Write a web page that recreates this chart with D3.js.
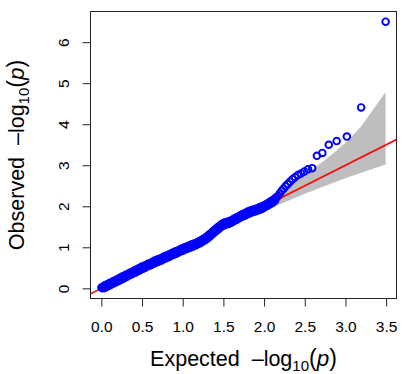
<!DOCTYPE html>
<html>
<head>
<meta charset="utf-8">
<script src="https://cdn.jsdelivr.net/npm/d3@7"></script>
<style>
  body { margin: 0; background: #fff; }
  text { font-family: "Liberation Sans", Arial, Helvetica, sans-serif; fill: #000; }
</style>
</head>
<body>
<div id="chart"></div>
<script>
var expected = [
  0.0000, 0.0125, 0.0250, 0.0375, 0.0500, 0.0625, 0.0750, 0.0875, 0.1000, 0.1125,
  0.1250, 0.1375, 0.1500, 0.1625, 0.1750, 0.1875, 0.2000, 0.2125, 0.2250, 0.2375,
  0.2500, 0.2625, 0.2750, 0.2875, 0.3000, 0.3125, 0.3250, 0.3375, 0.3500, 0.3625,
  0.3750, 0.3875, 0.4000, 0.4125, 0.4250, 0.4375, 0.4500, 0.4625, 0.4750, 0.4875,
  0.5000, 0.5125, 0.5250, 0.5375, 0.5500, 0.5625, 0.5750, 0.5875, 0.6000, 0.6125,
  0.6250, 0.6375, 0.6500, 0.6625, 0.6750, 0.6875, 0.7000, 0.7125, 0.7250, 0.7375,
  0.7500, 0.7625, 0.7750, 0.7875, 0.8000, 0.8125, 0.8250, 0.8375, 0.8500, 0.8625,
  0.8750, 0.8875, 0.9000, 0.9125, 0.9250, 0.9375, 0.9500, 0.9625, 0.9750, 0.9875,
  1.0000, 1.0125, 1.0250, 1.0375, 1.0500, 1.0625, 1.0750, 1.0875, 1.1000, 1.1125,
  1.1250, 1.1375, 1.1500, 1.1625, 1.1750, 1.1875, 1.2000, 1.2125, 1.2250, 1.2375,
  1.2500, 1.2625, 1.2750, 1.2875, 1.3000, 1.3125, 1.3250, 1.3375, 1.3500, 1.3625,
  1.3750, 1.3875, 1.4000, 1.4125, 1.4250, 1.4375, 1.4500, 1.4625, 1.4750, 1.4875,
  1.5000, 1.5125, 1.5250, 1.5375, 1.5500, 1.5625, 1.5750, 1.5875, 1.6000, 1.6125,
  1.6250, 1.6375, 1.6500, 1.6625, 1.6750, 1.6875, 1.7000, 1.7125, 1.7250, 1.7375,
  1.7500, 1.7625, 1.7750, 1.7875, 1.8000, 1.8125, 1.8250, 1.8375, 1.8500, 1.8625,
  1.8750, 1.8875, 1.9000, 1.9125, 1.9250, 1.9375, 1.9500, 1.9625, 1.9750, 1.9875,
  2.0000, 2.0125, 2.0250, 2.0375, 2.0500, 2.0625, 2.0750, 2.0875, 2.1000, 2.1125,
  2.1250, 2.1375, 2.1500,
  2.172, 2.193, 2.216, 2.239, 2.264, 2.290, 2.318, 2.348, 2.380, 2.415,
  2.453, 2.494, 2.540, 2.591, 2.649, 2.716, 2.795, 2.892, 3.017, 3.193, 3.494];
var observed = [
  0.02, 0.00, 0.05, 0.01, 0.08, 0.03, 0.10, 0.06, 0.13, 0.08,
  0.15, 0.11, 0.18, 0.13, 0.20, 0.16, 0.23, 0.18, 0.25, 0.21,
  0.28, 0.23, 0.30, 0.26, 0.33, 0.28, 0.35, 0.31, 0.38, 0.33,
  0.40, 0.36, 0.43, 0.38, 0.45, 0.41, 0.48, 0.43, 0.50, 0.46,
  0.53, 0.48, 0.55, 0.50, 0.57, 0.53, 0.60, 0.55, 0.62, 0.57,
  0.64, 0.60, 0.67, 0.62, 0.69, 0.64, 0.71, 0.66, 0.73, 0.68,
  0.75, 0.71, 0.78, 0.73, 0.80, 0.75, 0.82, 0.77, 0.84, 0.80,
  0.87, 0.82, 0.89, 0.84, 0.91, 0.86, 0.93, 0.89, 0.96, 0.91,
  0.98, 0.93, 1.00, 0.95, 1.02, 0.97, 1.04, 0.99, 1.06, 1.01,
  1.08, 1.03, 1.10, 1.05, 1.12, 1.08, 1.15, 1.10, 1.17, 1.13,
  1.20, 1.16, 1.23, 1.19, 1.27, 1.23, 1.31, 1.27, 1.35, 1.32,
  1.40, 1.36, 1.44, 1.40, 1.48, 1.44, 1.52, 1.48, 1.56, 1.52,
  1.59, 1.54, 1.61, 1.56, 1.62, 1.57, 1.64, 1.59, 1.66, 1.62,
  1.69, 1.65, 1.72, 1.67, 1.74, 1.70, 1.77, 1.73, 1.80, 1.75,
  1.82, 1.77, 1.84, 1.80, 1.87, 1.82, 1.89, 1.84, 1.91, 1.86,
  1.92, 1.87, 1.94, 1.89, 1.96, 1.91, 1.98, 1.93, 2.00, 1.95,
  2.02, 1.98, 2.05, 2.01, 2.08, 2.04, 2.11, 2.07, 2.14, 2.10,
  2.18, 2.15, 2.22,
  2.25, 2.31, 2.38, 2.43, 2.49, 2.54, 2.60, 2.66, 2.71, 2.76,
  2.80, 2.845, 2.90, 2.93, 3.23, 3.30, 3.50, 3.59, 3.70, 4.41, 6.50];

// confidence band (gray polygon)
var bandX     = [0.000, 0.193, 0.494, 0.795, 1.193, 1.494, 1.795, 2.017, 2.193, 2.318, 2.494, 2.591, 2.716, 2.795, 2.892, 3.017, 3.193, 3.494];
var bandUpper = [0.001, 0.205, 0.517, 0.828, 1.245, 1.569, 1.903, 2.160, 2.372, 2.528, 2.760, 2.894, 3.077, 3.199, 3.358, 3.581, 3.944, 4.784];
var bandLower = [0.000, 0.181, 0.472, 0.764, 1.145, 1.426, 1.700, 1.896, 2.049, 2.154, 2.298, 2.375, 2.472, 2.532, 2.604, 2.695, 2.818, 3.018];

var xTicks = [0, 0.5, 1, 1.5, 2, 2.5, 3, 3.5];
var yTicks = [0, 1, 2, 3, 4, 5, 6];

var w = 412;
var h = 374;
var pLeft = 90, pRight = 397, pTop = 11, pBottom = 299;

function draw() {
  var points = expected.map(function(d, i) { return { x: d, y: observed[i] }; });
  var band = bandX.map(function(d, i) { return { x: d, lo: bandLower[i], hi: bandUpper[i] }; });

  // R style: extend data range by 4% on each side
  var xr = d3.extent(expected), yr = d3.extent(observed);
  var xPad = (xr[1] - xr[0]) * 0.04, yPad = (yr[1] - yr[0]) * 0.04;

  var xScale = d3.scaleLinear().domain([xr[0] - xPad, xr[1] + xPad]).range([pLeft, pRight]);
  var yScale = d3.scaleLinear().domain([yr[0] - yPad, yr[1] + yPad]).range([pBottom, pTop]);

  var svg = d3.select("#chart").append("svg")
    .attr("width", w)
    .attr("height", h);

  svg.append("clipPath").attr("id", "plotclip")
    .append("rect")
    .attr("x", pLeft).attr("y", pTop)
    .attr("width", pRight - pLeft).attr("height", pBottom - pTop);

  var plot = svg.append("g").attr("clip-path", "url(#plotclip)");

  var area = d3.area()
    .x(function(d) { return xScale(d.x); })
    .y0(function(d) { return yScale(d.lo); })
    .y1(function(d) { return yScale(d.hi); });

  plot.append("path")
    .datum(band)
    .attr("d", area)
    .attr("fill", "#bebebe");

  // y = x reference line
  var dom = xScale.domain();
  plot.append("line")
    .attr("x1", xScale(dom[0])).attr("y1", yScale(dom[0]))
    .attr("x2", xScale(dom[1])).attr("y2", yScale(dom[1]))
    .attr("stroke", "#ff0000")
    .attr("stroke-width", 1.6);

  plot.selectAll("circle")
    .data(points)
    .enter().append("circle")
    .attr("cx", function(d) { return xScale(d.x); })
    .attr("cy", function(d) { return yScale(d.y); })
    .attr("r", 3.3)
    .attr("fill", "none")
    .attr("stroke", "#0000ff")
    .attr("stroke-width", 1.9);

  // box
  svg.append("rect")
    .attr("x", pLeft + 0.5).attr("y", pTop + 0.5)
    .attr("width", pRight - pLeft - 1).attr("height", pBottom - pTop - 1)
    .attr("fill", "none")
    .attr("stroke", "#222")
    .attr("stroke-width", 1);

  var xAxis = d3.axisBottom(xScale)
    .tickValues(xTicks)
    .tickSize(8)
    .tickPadding(14)
    .tickFormat(d3.format(".1f"));

  var gx = svg.append("g")
    .attr("transform", "translate(0," + (pBottom - 0.5) + ")")
    .call(xAxis);
  gx.select(".domain").remove();
  gx.selectAll("line").attr("stroke", "#222");
  gx.selectAll("text")
    .style("font-size", "15.5px")
    .attr("fill", "#000");

  var yAxis = d3.axisLeft(yScale)
    .tickValues(yTicks)
    .tickSize(8)
    .tickFormat(d3.format("d"));

  var gy = svg.append("g")
    .attr("transform", "translate(" + (pLeft + 0.5) + ",0)")
    .call(yAxis);
  gy.select(".domain").remove();
  gy.selectAll("line").attr("stroke", "#222");
  gy.selectAll("text")
    .style("font-size", "15.5px")
    .attr("fill", "#000")
    .attr("x", null).attr("dy", null)
    .attr("text-anchor", "middle")
    .attr("transform", "translate(-22,0) rotate(-90)");

  // axis titles
  var xt = svg.append("text")
    .attr("x", (pLeft + pRight) / 2)
    .attr("y", 366)
    .attr("text-anchor", "middle")
    .style("font-size", "21.5px");
  addTitle(xt, "Expected");

  var yt = svg.append("text")
    .attr("transform", "translate(24," + ((pTop + pBottom) / 2) + ") rotate(-90)")
    .attr("text-anchor", "middle")
    .style("font-size", "21.5px");
  addTitle(yt, "Observed");
}

function addTitle(t, word) {
  t.append("tspan").text(word + "\u00a0\u00a0\u2013log");
  t.append("tspan").text("10").style("font-size", "15px").attr("dy", 5);
  t.append("tspan").text("(").attr("dy", -5).style("font-size", "23px");
  t.append("tspan").text("p").style("font-style", "italic").style("font-size", "22.5px");
  t.append("tspan").text(")").style("font-size", "23px");
}

window.onload = draw;
</script>
</body>
</html>
